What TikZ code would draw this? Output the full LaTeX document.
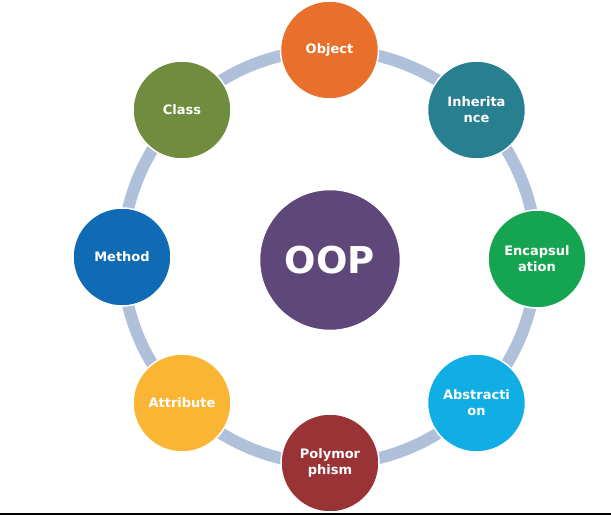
\documentclass[tikz,border=0pt]{standalone}
\usepackage{fontspec}
\setmainfont{DejaVu Sans}
\definecolor{ringc}{HTML}{AFC0DB}
\definecolor{cobj}{HTML}{E9702A}
\definecolor{cinh}{HTML}{277F8F}
\definecolor{cenc}{HTML}{15A451}
\definecolor{cabs}{HTML}{10AEE5}
\definecolor{cpol}{HTML}{993336}
\definecolor{catt}{HTML}{FBB534}
\definecolor{cmet}{HTML}{106AB4}
\definecolor{ccla}{HTML}{6F8C3F}
\definecolor{coop}{HTML}{5E4779}
\tikzset{
  item/.style={circle, minimum size=98pt, inner sep=0pt, draw=white, line width=1.5pt,
    text=white, align=center, font=\fontsize{13}{16}\selectfont\bfseries},
  hub/.style={circle, minimum size=141pt, inner sep=0pt, draw=white, line width=1.5pt,
    text=white, font=\fontsize{37}{40}\selectfont\bfseries},
  ringline/.style={draw=ringc, line width=12pt},
}
\begin{document}
\begin{tikzpicture}[x=1pt,y=-1pt]
\useasboundingbox[fill=white] (0,0) rectangle (611,515);
\coordinate (c) at (329.5,257);
\draw[ringline] (c) circle (207);
\node[hub, fill=coop] (oop) at (330,260) {OOP};
\node[item, fill=cobj] (obj) at (329.5,50) {Object};
\node[item, fill=cinh] (inh) at (476.5,110) {Inherita\\nce};
\node[item, fill=cenc] (enc) at (537,259) {Encapsul\\ation};
\node[item, fill=cabs] (abs) at (476.5,403) {Abstracti\\on};
\node[item, fill=cpol] (pol) at (330,463) {Polymor\\phism};
\node[item, fill=catt] (att) at (182,403) {Attribute};
\node[item, fill=cmet] (met) at (122,257) {Method};
\node[item, fill=ccla] (cla) at (182,110) {Class};
\coordinate (bl) at (0,513.8);
\coordinate (br) at (611,513.8);
\draw[black, line width=2.4pt] (bl) -- (br);
\end{tikzpicture}
\end{document}
